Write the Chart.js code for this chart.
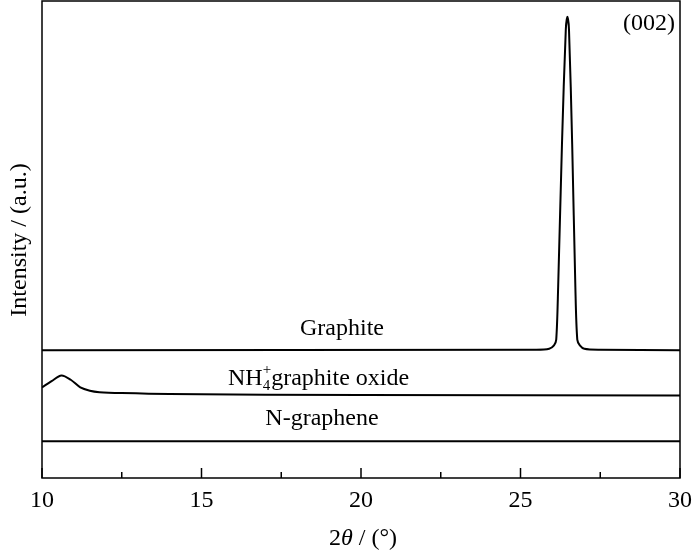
<!DOCTYPE html>
<html>
<head>
<meta charset="utf-8">
<script src="https://cdn.jsdelivr.net/npm/chart.js@4"></script>
<style>
  html, body { margin: 0; padding: 0; background: #fff; }
  #wrap { width: 700px; height: 552px; }
</style>
</head>
<body>
<div id="wrap"><canvas id="c"></canvas></div>
<script>
// data (x = 2θ in degrees, y = offset intensity, arbitrary units 0-100)
const graphiteX = [10, 25.5, 25.9, 26.05, 26.12, 26.18, 26.3, 26.42, 26.47, 26.52, 26.62, 26.72, 26.78, 26.86, 27.0, 27.5, 30];
const graphiteY = [26.8, 26.9, 27.1, 27.8, 29, 40, 70, 94, 96.7, 94, 70, 40, 29, 27.8, 27.1, 26.9, 26.8];
const oxideX = [10, 10.3, 10.61, 10.9, 11.2, 11.5, 11.8, 12.5, 14, 20, 30];
const oxideY = [19.0, 20.3, 21.5, 20.6, 19.0, 18.3, 18.0, 17.8, 17.6, 17.4, 17.3];
const grapheneX = [10, 30];
const grapheneY = [7.7, 7.7];
const xTicks = [10, 15, 20, 25, 30];
const xMinorTicks = [12.5, 17.5, 22.5, 27.5];
const curveLabels = ['Graphite', 'N-graphene', '(002)'];

const pts = (xs, ys) => xs.map((x, i) => ({ x: x, y: ys[i] }));
const SERIF = '"Liberation Serif", "DejaVu Serif", serif';

const decor = {
    id: 'decor',
    afterDraw(chart) {
        const ctx = chart.ctx;
        const a = chart.chartArea;
        const xs = chart.scales.x;
        ctx.save();
        ctx.strokeStyle = '#000';
        ctx.lineWidth = 1.5;
        ctx.strokeRect(a.left, a.top, a.right - a.left, a.bottom - a.top);
        // inward ticks
        xTicks.forEach(v => {
            const px = xs.getPixelForValue(v);
            ctx.beginPath(); ctx.moveTo(px, a.bottom); ctx.lineTo(px, a.bottom - 10); ctx.stroke();
        });
        xMinorTicks.forEach(v => {
            const px = xs.getPixelForValue(v);
            ctx.beginPath(); ctx.moveTo(px, a.bottom); ctx.lineTo(px, a.bottom - 6); ctx.stroke();
        });
        ctx.fillStyle = '#000';
        ctx.font = '24px ' + SERIF;
        ctx.textAlign = 'center';
        ctx.textBaseline = 'alphabetic';
        ctx.fillText(curveLabels[0], 342, 335);
        ctx.fillText(curveLabels[1], 322, 425);
        ctx.textAlign = 'right';
        ctx.fillText(curveLabels[2], 675, 30);
        // NH4+graphite oxide with sub/superscript
        ctx.textAlign = 'left';
        let x = 228;
        const by = 385;
        ctx.fillText('NH', x, by); x += ctx.measureText('NH').width;
        ctx.font = '15px ' + SERIF;
        ctx.fillText('4', x, by + 5);
        ctx.fillText('+', x, by - 11); x += ctx.measureText('4').width + 1;
        ctx.font = '24px ' + SERIF;
        ctx.fillText('graphite oxide', x, by);
        // x title: 2θ / (°)
        ctx.font = '24px ' + SERIF;
        let t1 = '2', t2 = 'θ', t3 = ' / (°)';
        const w1 = ctx.measureText(t1).width, w3 = ctx.measureText(t3).width;
        ctx.font = 'italic 24px ' + SERIF;
        const w2 = ctx.measureText(t2).width;
        let sx = 363 - (w1 + w2 + w3) / 2;
        ctx.font = '24px ' + SERIF; ctx.fillText(t1, sx, 545); sx += w1;
        ctx.font = 'italic 24px ' + SERIF; ctx.fillText(t2, sx, 545); sx += w2;
        ctx.font = '24px ' + SERIF; ctx.fillText(t3, sx, 545);
        // y title
        ctx.translate(20, 240);
        ctx.rotate(-Math.PI / 2);
        ctx.textAlign = 'center';
        ctx.textBaseline = 'middle';
        ctx.fillText('Intensity / (a.u.)', 0, 0);
        ctx.restore();
    }
};

const lineStyle = { borderColor: '#000', borderWidth: 2, pointRadius: 0, tension: 0.3, fill: false };

new Chart(document.getElementById('c'), {
    type: 'line',
    data: {
        datasets: [
            Object.assign({ label: 'Graphite', data: pts(graphiteX, graphiteY) }, lineStyle),
            Object.assign({ label: 'NH4+graphite oxide', data: pts(oxideX, oxideY) }, lineStyle),
            Object.assign({ label: 'N-graphene', data: pts(grapheneX, grapheneY) }, lineStyle)
        ]
    },
    options: {
        responsive: true,
        maintainAspectRatio: false,
        animation: false,
        layout: { padding: { top: 1, right: 16, left: 0, bottom: 0 } },
        plugins: { legend: { display: false }, tooltip: { enabled: false } },
        scales: {
            x: {
                type: 'linear', min: 10, max: 30,
                grid: { display: false, drawTicks: false },
                border: { display: false },
                afterBuildTicks: s => { s.ticks = xTicks.map(v => ({ value: v })); },
                afterFit: s => { s.height = 74; },
                ticks: { color: '#000', padding: 8, font: { family: SERIF, size: 24 } }
            },
            y: {
                min: 0, max: 100,
                grid: { display: false },
                border: { display: false },
                ticks: { display: false },
                afterFit: s => { s.width = 42; }
            }
        }
    },
    plugins: [decor]
});
</script>
</body>
</html>
